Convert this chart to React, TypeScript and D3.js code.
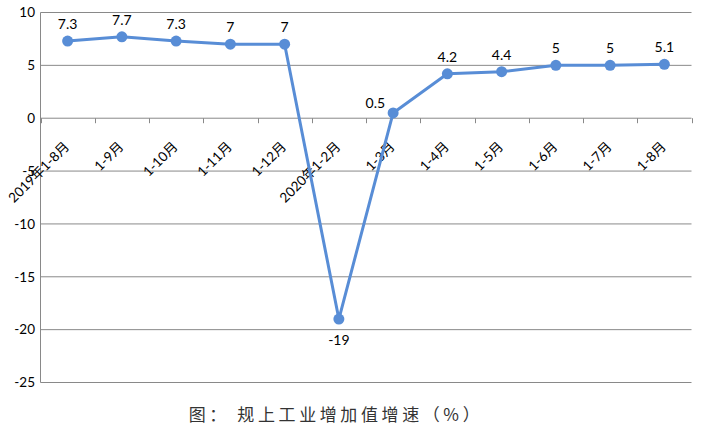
import React from "react";
import * as d3 from "d3";

const categories = ["2019年1-8月", "1-9月", "1-10月", "1-11月", "1-12月", "2020年1-2月", "1-3月", "1-4月", "1-5月", "1-6月", "1-7月", "1-8月"];
const values = [7.3, 7.7, 7.3, 7, 7, -19, 0.5, 4.2, 4.4, 5, 5, 5.1];
const yTicks = [10, 5, 0, -5, -10, -15, -20, -25];
const title = "图： 规上工业增加值增速（%）";

const W = 701, H = 432;
const left = 40.5, right = 691.5, top = 12.5, bottom = 382.5;
const font = "Lato, 'Noto Sans CJK SC', sans-serif";
const lineColor = "#588DD6";

export default function App() {
  const x = d3.scaleBand<string>().domain(categories).range([left, right]);
  const y = d3.scaleLinear().domain([-25, 10]).range([bottom, top]);
  const cx = (c: string) => (x(c) as number) + x.bandwidth() / 2;
  const line = d3.line<number>().x((_, i) => cx(categories[i])).y((d) => y(d));
  const y0 = y(0);
  const boundaries = d3.range(categories.length + 1).map((i) => left + i * x.bandwidth());

  return (
    <svg width={W} height={H} style={{ position: "absolute", left: 0, top: 0, background: "#fff" }}>
      {yTicks.map((t) => (
        <g key={t}>
          <line x1={left} x2={right} y1={y(t)} y2={y(t)} stroke="#898989" strokeWidth={1} />
          <text x={35} y={y(t)} dy="0.35em" textAnchor="end" fontFamily={font} fontSize={13.5} fill="#000">
            {t}
          </text>
        </g>
      ))}
      <line x1={left} x2={left} y1={top} y2={bottom} stroke="#898989" strokeWidth={1} />
      {boundaries.map((bx, i) => (
        <line key={i} x1={Math.round(bx) + 0.5} x2={Math.round(bx) + 0.5} y1={y0} y2={y0 + 5} stroke="#898989" strokeWidth={1} />
      ))}
      {categories.map((c) => (
        <text
          key={c}
          transform={`translate(${cx(c) - 1},${y0 + 26}) rotate(-45)`}
          textAnchor="end"
          dy="0.35em"
          fontFamily={font}
          fontSize={13.5}
          fill="#000"
        >
          {c}
        </text>
      ))}
      <path d={line(values) as string} fill="none" stroke={lineColor} strokeWidth={3} strokeLinejoin="round" />
      {values.map((v, i) => (
        <circle key={i} cx={cx(categories[i])} cy={y(v)} r={5.5} fill={lineColor} />
      ))}
      {values.map((v, i) => {
        const px = cx(categories[i]);
        const py = y(v);
        let tx = px, ty = py - 12, anchor: "middle" | "end" = "middle";
        if (v < -10) { ty = py + 26; }
        if (i === 6) { tx = px - 8; ty = py - 5; anchor = "end"; }
        return (
          <text key={i} x={tx} y={ty} textAnchor={anchor} fontFamily={font} fontSize={14} fill="#000">
            {v}
          </text>
        );
      })}
      <text x={336} y={415} dy="0.35em" textAnchor="middle" fontFamily="'Noto Sans CJK SC', sans-serif" fontSize={17} letterSpacing={3.6} fill="#333">
        {title}
      </text>
    </svg>
  );
}
